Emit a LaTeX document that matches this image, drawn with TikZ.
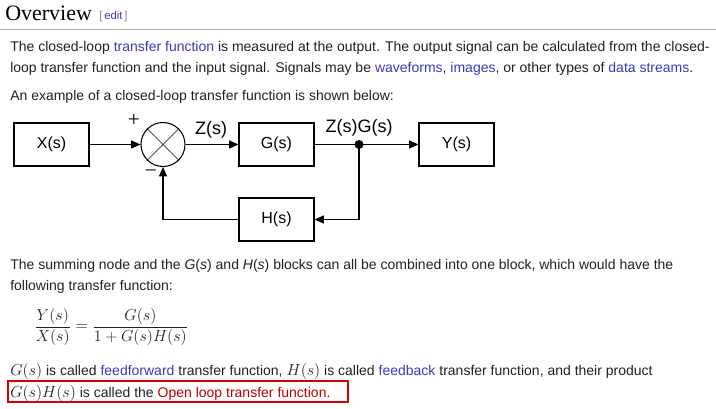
\documentclass[tikz,border=0pt]{standalone}
\usepackage{fontspec}
\setmainfont{Liberation Sans}
\newfontfamily\headfont{Liberation Serif}
\usetikzlibrary{arrows.meta}
\definecolor{lnk}{HTML}{3A3AB8}
\definecolor{rlnk}{HTML}{BA0000}
\definecolor{txt}{HTML}{202122}
\tikzset{
 body/.style={anchor=base west,inner sep=0,text=txt,font=\fontsize{10.5}{12}\selectfont},
 blk/.style={draw,line width=0.8pt,minimum width=56.25pt,minimum height=32.25pt,inner sep=0,font=\fontsize{12}{14}\selectfont},
 lbl/.style={font=\fontsize{13.5}{15}\selectfont,inner sep=0},
 wire/.style={line width=0.8pt,-{Triangle[length=7pt,width=6pt]}},
}
\begin{document}
\begin{tikzpicture}[x=0.75pt,y=-0.75pt]
\useasboundingbox (0,0) rectangle (716,409);
\node[anchor=base west,inner sep=0,font=\headfont\fontsize{16.5}{20}\selectfont] (h) at (5,21) {Overview};
\node[anchor=base west,inner sep=0,font=\fontsize{8.5}{10}\selectfont,text=gray] (e) at (99,20) {[\,\textcolor{lnk}{edit}\,]};
\draw[gray!60] (0,29) -- (716,29);
\node[body] (p1) at (10,52) {The closed-loop \textcolor{lnk}{transfer function} is measured at the output. The output signal can be calculated from the closed-};
\node[body] (p2) at (10,73) {loop transfer function and the input signal. Signals may be \textcolor{lnk}{waveforms}, \textcolor{lnk}{images}, or other types of \textcolor{lnk}{data streams}.};
\node[body] (p3) at (10,101) {An example of a closed-loop transfer function is shown below:};
% diagram
\node[blk] (x) at (51.5,144.5) {X(s)};
\node[draw,line width=0.8pt,circle,minimum size=33pt,inner sep=0] (sum) at (163,144.5) {};
\draw[thin] (sum.north west) -- (sum.south east) (sum.north east) -- (sum.south west);
\node[blk] (g) at (276.5,144.5) {G(s)};
\node[blk] (y) at (456.5,144.5) {Y(s)};
\node[blk] (hh) at (276.5,219.5) {H(s)};
\coordinate (d) at (359,144.5);
\coordinate (c1) at (359,219.5);
\coordinate (c2) at (163,219.5);
\fill (d) circle (4.5);
\draw[wire] (x) -- (sum);
\draw[wire] (sum) -- (g);
\draw[wire] (g) -- (y);
\draw[wire] (d) -- (c1) -- (hh);
\draw[wire] (hh) -- (c2) -- (sum);
\node[lbl] (plus) at (134,120) {\fontsize{16}{16}\selectfont\headfont +};
\node[lbl] (minus) at (151,174) {\fontsize{16}{16}\selectfont\headfont −};
\node[lbl] (zl) at (211,130) {Z(s)};
\node[lbl] (zg) at (359,128) {Z(s)G(s)};
\node[body] (p4) at (10,270) {The summing node and the \textit{G}(\textit{s}) and \textit{H}(\textit{s}) blocks can all be combined into one block, which would have the};
\node[body] (p5) at (10,291) {following transfer function:};
\node[anchor=west,inner sep=0,text=txt,font=\fontsize{12.5}{15}\selectfont] (f) at (34,327) {$\displaystyle \frac{Y(s)}{X(s)}=\frac{G(s)}{1+G(s)H(s)}$};
\node[body] (p6) at (10,375) {\fontsize{12.5}{14}\selectfont$G(s)$\fontsize{10.5}{12}\selectfont\ is called \textcolor{lnk}{feedforward} transfer function, \fontsize{12.5}{14}\selectfont$H(s)$\fontsize{10.5}{12}\selectfont\ is called \textcolor{lnk}{feedback} transfer function, and their product};
\node[body] (p7) at (10,397) {\fontsize{12.5}{14}\selectfont$G(s)H(s)$\fontsize{10.5}{12}\selectfont\ is called the \textcolor{rlnk}{Open loop transfer function}.};
\draw[red!85!black,thick] (8,381) rectangle (348,402);
\end{tikzpicture}
\end{document}
